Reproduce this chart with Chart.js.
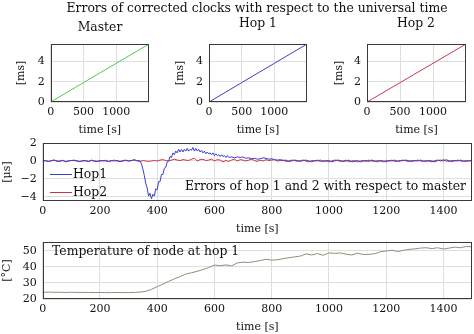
<!DOCTYPE html>
<html>
<head>
<meta charset="utf-8">
<script src="https://cdn.jsdelivr.net/npm/chart.js@4.4.1/dist/chart.umd.min.js"></script>
<style>
  body { margin: 0; background: #fff; }
  #wrap { position: relative; width: 474px; height: 334px; overflow: hidden;
          font-family: 'DejaVu Serif', serif; color: #111; }
  canvas { position: absolute; left: 0; top: 0; }
  .lbl { position: absolute; white-space: nowrap; line-height: 1; font-size: 12.4px; }
  .mid { transform: translate(-50%, -50%); }
  .lft { transform: translate(0, -50%); }
  .key { position: absolute; height: 0; width: 22px; }
</style>
</head>
<body>
<div id="wrap">
  <canvas id="master" width="474" height="334"></canvas>
  <canvas id="hop1" width="474" height="334"></canvas>
  <canvas id="hop2" width="474" height="334"></canvas>
  <canvas id="errors" width="474" height="334"></canvas>
  <canvas id="temp" width="474" height="334"></canvas>

  <div class="lbl mid" style="left:257px; top:8px;">Errors of corrected clocks with respect to the universal time</div>
  <div class="lbl mid" style="left:100px; top:27px;">Master</div>
  <div class="lbl mid" style="left:258px; top:23px;">Hop 1</div>
  <div class="lbl mid" style="left:416px; top:23px;">Hop 2</div>
  <div class="lbl" style="right:8px; top:186px; transform:translate(0,-50%);">Errors of hop 1 and 2 with respect to master</div>
  <div class="lbl lft" style="left:52px; top:251px;">Temperature of node at hop 1</div>
  <div id="legend"></div>
</div>

<script>
// top row: corrected clock error vs. time
const topTimes = [0, 500, 1000, 1500];
const masterMs = [0, 1.9, 3.8, 5.7];
const hop1Ms = [0, 1.9, 3.8, 5.7];
const hop2Ms = [0, 1.9, 3.8, 5.7];

// errors of hop 2 w.r.t. master (us)
const hop2Times = [
  0, 10, 20, 30, 40, 50, 60, 70, 80, 90, 100, 110, 120, 130, 140, 150, 160, 170, 180, 190,
  200, 210, 220, 230, 240, 250, 260, 270, 280, 290, 300, 310, 320, 330, 340, 350, 360, 370, 380, 390,
  400, 410, 420, 430, 440, 450, 460, 470, 480, 490, 500, 510, 520, 530, 540, 550, 560, 570, 580, 590,
  600, 610, 620, 630, 640, 650, 660, 670, 680, 690, 700, 710, 720, 730, 740, 750, 760, 770, 780, 790,
  800, 810, 820, 830, 840, 850, 860, 870, 880, 890, 900, 910, 920, 930, 940, 950, 960, 970, 980, 990,
  1000, 1010, 1020, 1030, 1040, 1050, 1060, 1070, 1080, 1090, 1100, 1110, 1120, 1130, 1140, 1150, 1160, 1170, 1180, 1190,
  1200, 1210, 1220, 1230, 1240, 1250, 1260, 1270, 1280, 1290, 1300, 1310, 1320, 1330, 1340, 1350, 1360, 1370, 1380, 1390,
  1400, 1410, 1420, 1430, 1440, 1450, 1460, 1470, 1480, 1490, 1500
];
const hop2Err = [
  0.05, 0.0, -0.05, 0.05, 0.1, -0.05, 0.0, 0.08, -0.1, 0.0, 0.05,
  0.1, 0.0, -0.08, 0.05, 0.0, -0.05, 0.1, 0.0, -0.05, 0.05,
  0.0, 0.08, -0.05, 0.0, 0.1, 0.0, -0.08, 0.05, 0.1, 0.0,
  0.05, 0.15, 0.0, -0.05, 0.05, 0.0, -0.05, 0.0, 0.05, 0.0,
  0.1, 0.15, 0.05, 0.0, 0.1, 0.2, 0.1, 0.05, 0.15, 0.1,
  0.05, 0.2, 0.3, 0.0, 0.15, 0.2, 0.05, 0.1, 0.2, 0.0,
  0.15, 0.1, -0.1, 0.05, -0.05, 0.1, 0.2, 0.0, 0.15, 0.1,
  0.0, 0.1, 0.2, 0.05, -0.05, 0.1, 0.0, 0.15, 0.05, 0.1,
  0.15, 0.0, 0.05, 0.1, -0.05, 0.0, 0.1, 0.05, -0.05, 0.05,
  0.1, 0.0, -0.1, 0.05, 0.0, 0.1, -0.05, 0.0, 0.05, -0.1,
  0.0, 0.1, 0.05, -0.05, 0.0, 0.1, -0.1, 0.0, 0.05, -0.1,
  0.0, 0.05, -0.05, 0.1, 0.0, -0.05, 0.05, 0.0, -0.1, 0.05,
  0.0, 0.1, -0.05, 0.0, 0.05, 0.1, 0.0, -0.05, 0.05, 0.0,
  0.1, 0.0, -0.05, 0.05, 0.0, -0.1, 0.05, 0.1, 0.0, 0.15,
  0.0, -0.05, 0.05, 0.0, 0.1, 0.0, -0.05, 0.05, 0.0, 0.05
];

// errors of hop 1 w.r.t. master (us), denser around the dip
const hop1Times = [
  0, 10, 20, 30, 40, 50, 60, 70, 80, 90, 100, 110, 120, 130, 140, 150, 160, 170, 180, 190,
  200, 210, 220, 230, 240, 250, 260, 270, 280, 290, 300, 310, 320, 330,
  340, 345, 350, 355, 360, 365, 370, 375, 380, 385, 390, 395, 400, 405, 410, 415, 420, 425,
  430, 435, 440, 445, 450, 455, 460, 465, 470, 475, 480, 485, 490, 495, 500, 505, 510, 515,
  520, 525, 530, 535, 540, 545, 550, 555, 560, 565, 570, 575, 580, 585, 590, 595, 600, 605,
  610, 615, 620, 625, 630, 635, 640, 645, 650,
  660, 670, 680, 690, 700, 710, 720, 730, 740, 750, 760, 770, 780, 790, 800, 810, 820, 830,
  840, 850, 860, 870, 880, 890, 900, 910, 920, 930, 940, 950, 960, 970, 980, 990, 1000, 1010,
  1020, 1030, 1040, 1050, 1060, 1070, 1080, 1090, 1100, 1110, 1120, 1130, 1140, 1150, 1160, 1170,
  1180, 1190, 1200, 1210, 1220, 1230, 1240, 1250, 1260, 1270, 1280, 1290, 1300, 1310, 1320, 1330,
  1340, 1350, 1360, 1370, 1380, 1390, 1400, 1410, 1420, 1430, 1440, 1450, 1460, 1470, 1480, 1490, 1500
];
const hop1Err = [
  0.0, 0.05, -0.05, 0.0, 0.1, 0.0, -0.05, 0.05, -0.05, 0.0, 0.05,
  0.05, 0.0, -0.05, 0.0, 0.05, -0.05, 0.05, 0.0, -0.05, 0.0,
  0.05, 0.0, -0.05, 0.05, 0.0, 0.05, -0.05, 0.0, 0.05, 0.0,
  0.05, 0.1, 0.05,
  0.0, -0.3, -0.9, -1.6, -2.5, -3.0, -3.9, -3.6, -4.2, -3.7, -3.9, -3.1, -3.2, -2.3, -2.3, -1.5, -1.5, -0.8,
  -0.7, -0.1, 0.0, 0.5, 0.4, 0.9, 0.7, 1.1, 0.9, 1.3, 1.0, 1.3, 1.0, 1.3, 1.1, 1.4, 1.1, 1.3,
  1.2, 1.5, 1.1, 1.4, 1.1, 1.3, 1.0, 1.2, 0.9, 1.1, 0.8, 1.0, 0.8, 0.9, 0.7, 0.9, 0.6, 0.8,
  0.6, 0.7, 0.5, 0.7, 0.5, 0.6, 0.4, 0.6, 0.4,
  0.45, 0.35, 0.45, 0.4, 0.45, 0.3, 0.35, 0.25, 0.3, 0.2, 0.25, 0.35, 0.3, 0.2, 0.25, 0.15, 0.1, 0.15,
  0.05, 0.1, -0.05, 0.0, 0.1, 0.05, -0.05, 0.05, 0.1, 0.0, -0.1, 0.05, 0.0, 0.1, -0.05, 0.0, 0.05, -0.1,
  0.0, 0.1, 0.05, -0.05, 0.0, 0.1, -0.1, -0.05, 0.05, -0.1, 0.0, 0.05, -0.05, 0.1, 0.0, -0.1,
  0.05, 0.0, -0.1, 0.05, 0.0, 0.1, -0.05, 0.0, 0.05, 0.1, 0.0, -0.05, 0.05, 0.0, 0.1, 0.0,
  -0.05, 0.05, 0.0, -0.1, 0.05, 0.1, 0.0, 0.15, 0.0, -0.05, 0.05, 0.0, 0.1, 0.0, -0.05, 0.05, 0.0
];

// temperature of node at hop 1 (deg C)
const tempTimes = [
  0, 20, 40, 60, 80, 100, 120, 140, 160, 180, 200, 220, 240, 260, 280, 300, 320, 340, 360, 380,
  400, 420, 440, 460, 480, 500, 520, 540, 560, 580, 600, 620, 640, 660, 680, 700, 720, 740, 760, 780,
  800, 820, 840, 860, 880, 900, 920, 940, 960, 980, 1000, 1020, 1040, 1060, 1080, 1100, 1120, 1140, 1160, 1180,
  1200, 1220, 1240, 1260, 1280, 1300, 1320, 1340, 1360, 1380, 1400, 1420, 1440, 1460, 1480, 1500
];
const tempC = [
  24.2, 24.3, 24.2, 24.2, 24.1, 24.2, 24.1, 24.1, 24.1, 24.0, 24.1, 24.0, 24.0, 24.1, 24.0, 24.0, 24.1,
  24.3, 24.8, 26.0, 27.7, 29.3, 31.0, 32.6, 34.0, 35.6, 36.4,
  37.3, 38.4, 39.6, 41.2, 40.8, 41.3, 40.7, 42.5, 43.0, 42.8,
  43.4, 44.0, 44.8, 44.3, 44.5, 45.2, 45.8, 46.3, 46.8, 48.2,
  47.5, 48.4, 47.3, 48.8, 48.5, 48.8, 48.0, 47.5, 48.6, 47.8,
  47.9, 48.3, 49.5, 50.0, 50.5, 49.6, 50.4, 51.0, 51.3, 51.8,
  52.0, 51.5, 52.0, 51.2, 51.8, 52.4, 52.0, 52.8, 52.6
];

const W = 474, H = 334;
const TICK_SIZE = 11;
Chart.defaults.font.family = "'DejaVu Serif', serif";
Chart.defaults.font.size = TICK_SIZE;
Chart.defaults.color = '#111';
const half = TICK_SIZE * 1.2 / 2;  // half a title line

const frame = {
  id: 'frame',
  afterDraw(chart) {
    const a = chart.chartArea, ctx = chart.ctx;
    ctx.save();
    ctx.strokeStyle = '#3a3a3a';
    ctx.lineWidth = 1;
    ctx.strokeRect(Math.round(a.left) + 0.5, Math.round(a.top) + 0.5,
      Math.round(a.right - a.left) - 1, Math.round(a.bottom - a.top) - 1);
    ctx.restore();
  }
};

function pts(xs, ys) {
  return xs.map((x, i) => ({ x: x, y: ys[i] }));
}
const fmt = v => String(v).replace('-', '\u2212');

// o.box = [left, top, right, bottom] of the axes on the page
function makePlot(id, datasets, o) {
  const padLeft = Math.max(0, o.yTitleX - half);
  const padBottom = Math.max(0, H - o.xTitleY - half);
  return new Chart(document.getElementById(id), {
    type: 'line',
    data: { datasets: datasets },
    options: {
      responsive: false,
      animation: false,
      events: [],
      layout: { padding: { left: padLeft, top: o.box[1], right: W - o.box[2], bottom: padBottom } },
      plugins: { legend: { display: false }, tooltip: { enabled: false } },
      elements: { point: { radius: 0 }, line: { borderWidth: 1, tension: 0 } },
      scales: {
        x: {
          type: 'linear', min: 0, max: o.xMax,
          ticks: { stepSize: o.xStep, includeBounds: false, autoSkip: false, maxRotation: 0, padding: 4, callback: fmt },
          afterBuildTicks: s => { s.ticks = s.ticks.filter(t => t.value < o.xMax); },
          grid: { color: '#dedede', drawTicks: false },
          border: { display: false },
          title: { display: true, text: 'time [s]', padding: 0 },
          afterFit: s => { s.height = H - padBottom - o.box[3]; }
        },
        y: {
          min: o.yMin, max: o.yMax,
          ticks: { stepSize: o.yStep, includeBounds: false, autoSkip: false, padding: 6, callback: fmt },
          grid: { color: '#dedede', drawTicks: false },
          border: { display: false },
          title: { display: true, text: o.yTitle, padding: 0 },
          afterFit: s => { s.width = o.box[0] - padLeft; }
        }
      }
    },
    plugins: [frame]
  });
}

const topOpts = { xMax: 1500, xStep: 500, yMin: 0, yMax: 5.7, yStep: 2, yTitle: '[ms]', xTitleY: 130 };

makePlot('master', [{ label: 'Master', data: pts(topTimes, masterMs), borderColor: '#4ccb4c' }],
  Object.assign({}, topOpts, { box: [50.7, 44, 149, 102], yTitleX: 21 }));
makePlot('hop1', [{ label: 'Hop 1', data: pts(topTimes, hop1Ms), borderColor: '#4040c4' }],
  Object.assign({}, topOpts, { box: [209, 44, 307, 102], yTitleX: 180 }));
makePlot('hop2', [{ label: 'Hop 2', data: pts(topTimes, hop2Ms), borderColor: '#c83c4c' }],
  Object.assign({}, topOpts, { box: [367, 44, 466, 102], yTitleX: 339 }));

const errSets = [
  { label: 'Hop1', data: pts(hop1Times, hop1Err), borderColor: '#3c3cd2' },
  { label: 'Hop2', data: pts(hop2Times, hop2Err), borderColor: '#cc3040' }
];
makePlot('errors', errSets, {
  box: [42.7, 143, 472, 201], yTitleX: 7, xTitleY: 229,
  xMax: 1500, xStep: 200, yMin: -4.45, yMax: 2, yStep: 2, yTitle: '[\u03bcs]'
});

makePlot('temp', [{ label: 'Temperature', data: pts(tempTimes, tempC), borderColor: '#8f8f78' }], {
  box: [42.7, 242, 472, 299], yTitleX: 7, xTitleY: 327,
  xMax: 1500, xStep: 200, yMin: 20, yMax: 55.6, yStep: 10, yTitle: '[\u00b0C]'
});

// legend inside the error plot, lower left
const legend = document.getElementById('legend');
errSets.forEach((d, i) => {
  const y = 174 + i * 18;
  legend.innerHTML +=
    '<div class="key" style="left:50px; top:' + y + 'px; border-top:1px solid ' + d.borderColor + ';"></div>' +
    '<div class="lbl lft" style="left:73px; top:' + y + 'px;">' + d.label + '</div>';
});
</script>
</body>
</html>
